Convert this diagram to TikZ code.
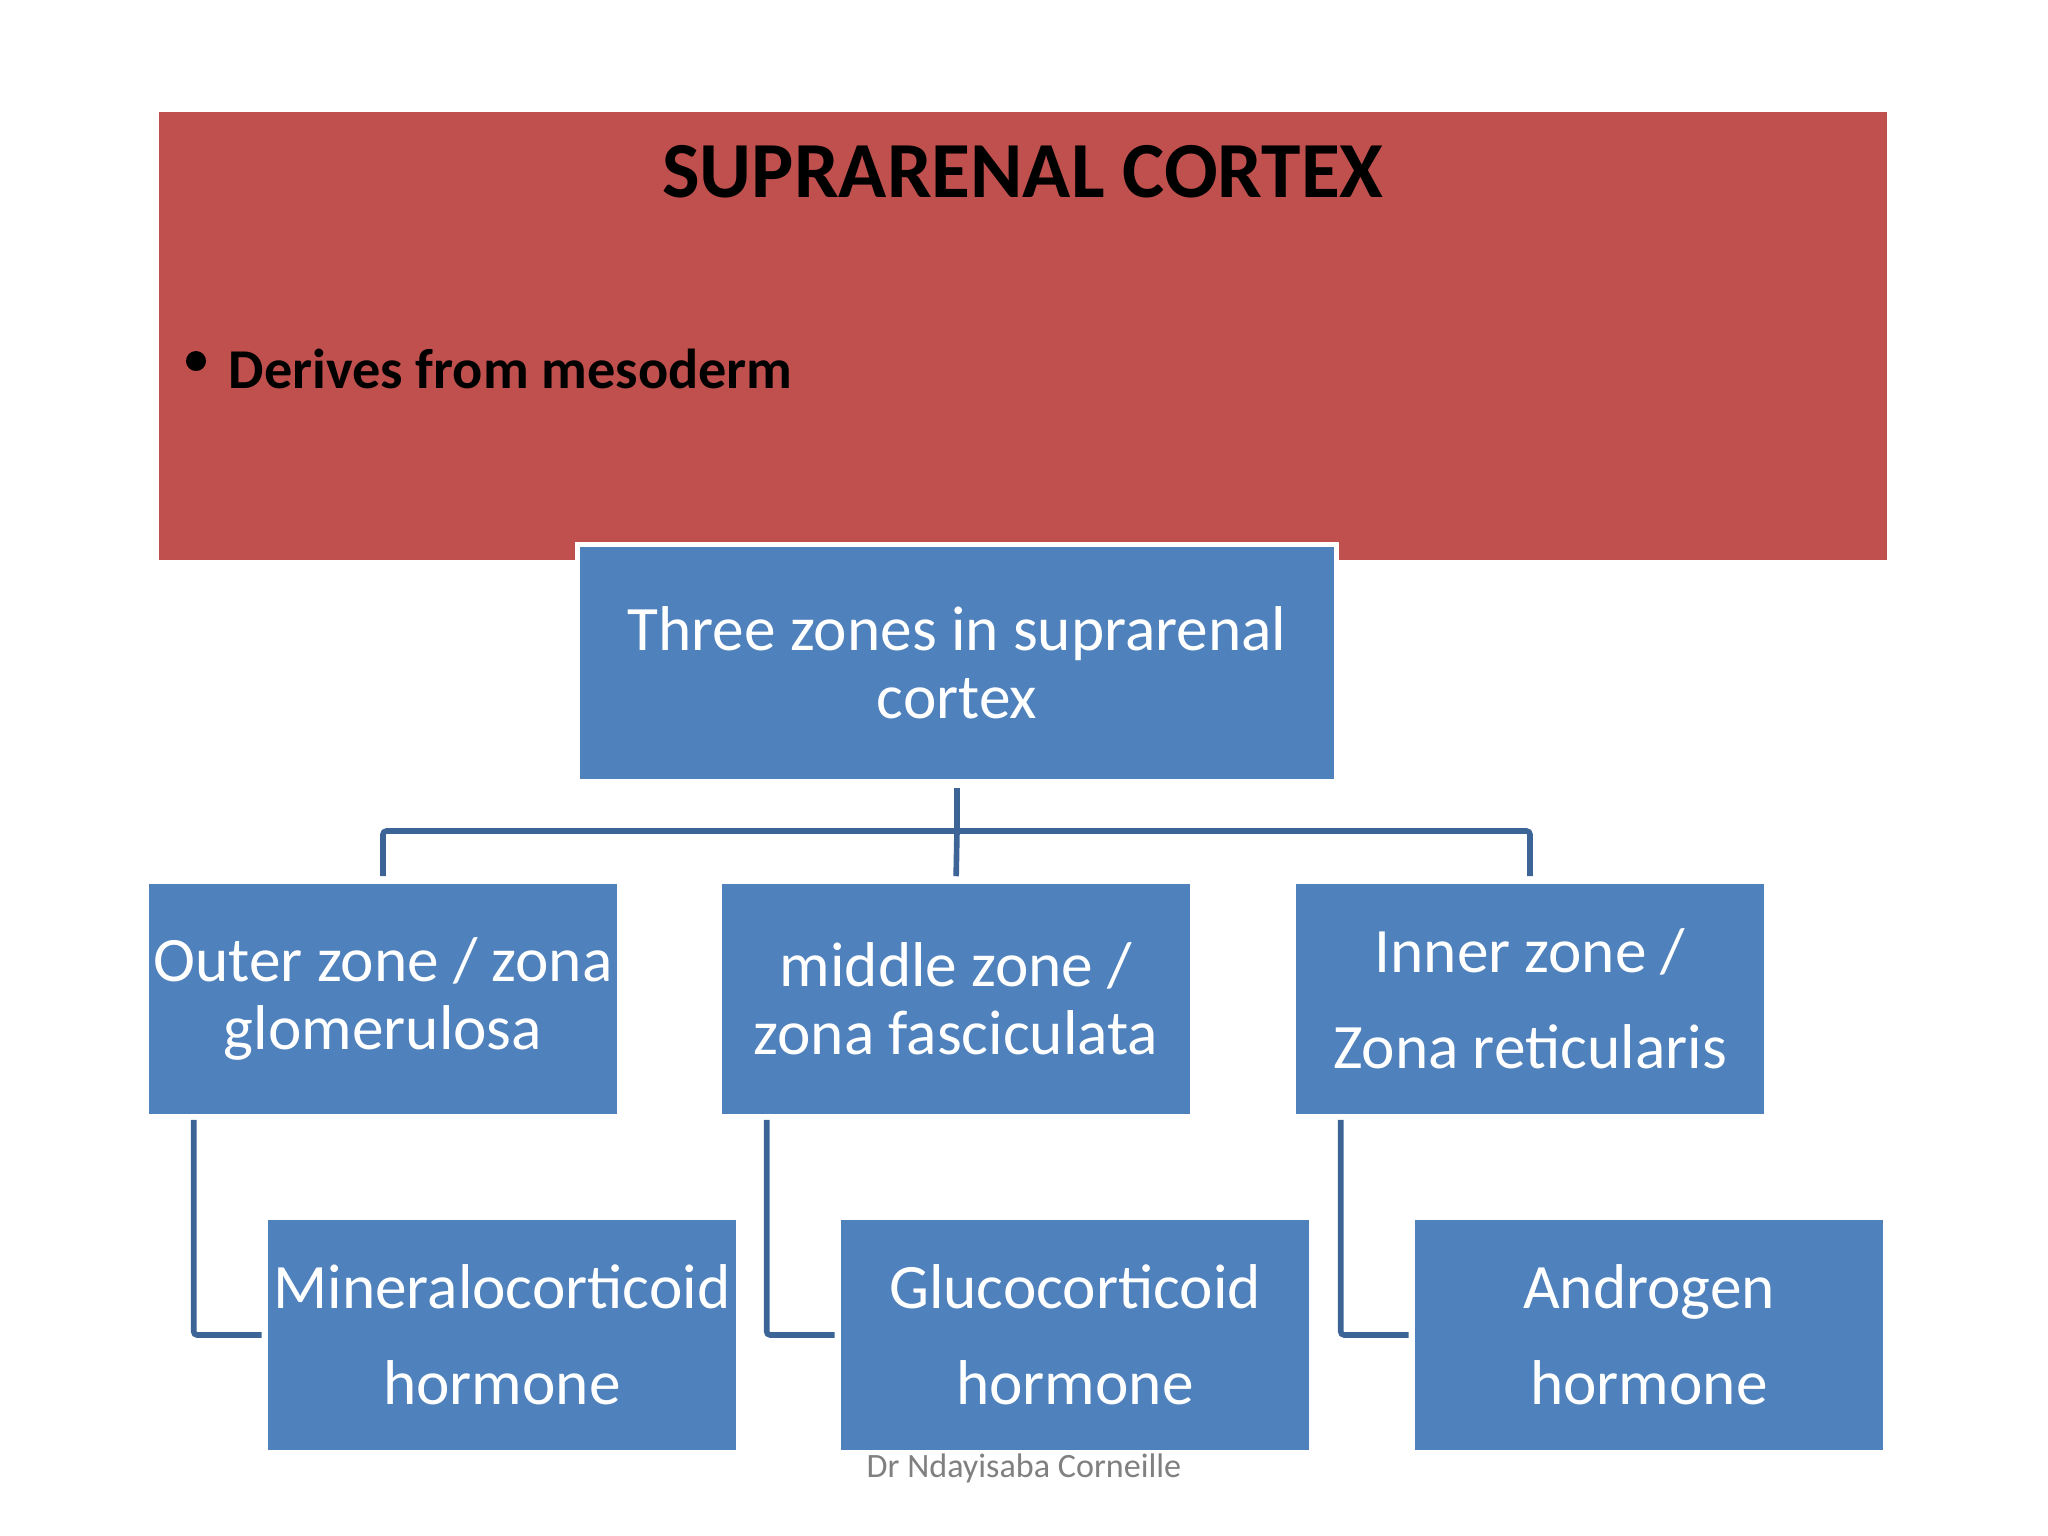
\documentclass[tikz,border=0pt]{standalone}
\usepackage{fontspec}
\setmainfont{Carlito}
\usetikzlibrary{positioning}
\definecolor{slidered}{HTML}{C0504D}
\definecolor{zoneblue}{HTML}{4F81BD}
\definecolor{linkblue}{HTML}{3C6497}

\begin{document}
\begin{tikzpicture}[x=0.01cm,y=-0.01cm,
		zone/.style={fill=zoneblue,text=white,align=center,inner sep=0pt,minimum width=4.67cm,minimum height=2.3cm,font=\fontsize{18}{19.4}\selectfont},
		wide zone/.style={zone,font=\fontsize{18}{27.3}\selectfont},
		link/.style={draw=linkblue,line width=1.6pt,rounded corners=1pt},
		banner text/.style={anchor=base,inner sep=0pt}
		]
		
		% Slide and red banner
		\useasboundingbox (0,0) rectangle (2048,1536);
		\fill[white] (0,0) rectangle (2048,1536);
		\fill[slidered] (159,112) rectangle (1887,560);
		
		% Banner texts
		\node[banner text,font=\fontsize{22.6}{27}\selectfont\bfseries] (title) at (1023,197) {SUPRARENAL CORTEX};
		\node[circle,fill=black,inner sep=0pt,minimum size=0.2cm] (dot) at (196,361) {};
		\node[banner text,anchor=base west,font=\fontsize{16}{19}\selectfont\bfseries] (derives) at (228,388) {Derives from mesoderm};
		
		% Top box
		\node[zone,draw=white,line width=1.4pt,minimum width=7.585cm,minimum height=2.36cm] (three) at (957,663) {Three zones in suprarenal\\cortex};
		
		% Zones
		\node[zone] (outer) at (383,999) {Outer zone / zona\\glomerulosa};
		\node[zone] (middle) at (956,999) {middle zone /\\zona fasciculata};
		\node[wide zone] (inner) at (1530,999) {Inner zone /\\Zona reticularis};
		
		% Hormones
		\node[wide zone] (mineral) at (502,1335) {Mineralocorticoid\\hormone};
		\node[wide zone] (gluco) at (1075,1335) {Glucocorticoid\\hormone};
		\node[wide zone] (andro) at (1649,1335) {Androgen\\hormone};
		
		% Tree lines
		\coordinate (hub) at (957,831);
		\draw[link,shorten <=0.04cm] (three.south) -- (hub);
		\draw[link,shorten <=0.07cm,shorten >=0.07cm] (outer.north) |- (hub) -| (inner.north);
		\draw[link,shorten >=0.07cm] (hub) -- (middle.north);
		
		% Elbows to hormones
		\draw[link,shorten <=0.05cm,shorten >=0.06cm] ([xshift=0.45cm]outer.south west) |- (mineral.west);
		\draw[link,shorten <=0.05cm,shorten >=0.06cm] ([xshift=0.45cm]middle.south west) |- (gluco.west);
		\draw[link,shorten <=0.05cm,shorten >=0.06cm] ([xshift=0.45cm]inner.south west) |- (andro.west);
		
		% Credit
		\node[banner text,text=black!50,font=\fontsize{9.7}{12}\selectfont] (credit) at (1024,1477) {Dr Ndayisaba Corneille};
		
	\end{tikzpicture}
\end{document}
